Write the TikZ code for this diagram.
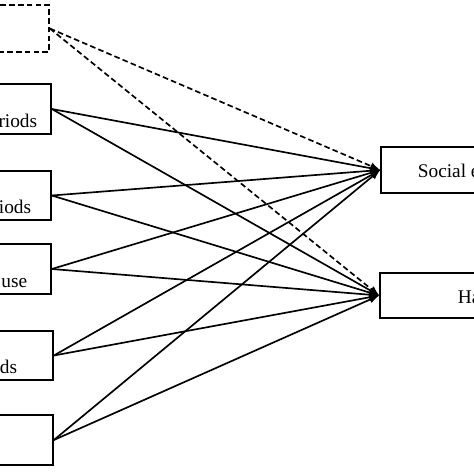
\documentclass[tikz,border=0pt]{standalone}
\usepackage{fontspec}
\setmainfont{Liberation Serif}
\usetikzlibrary{arrows,positioning}

\begin{document}
\begin{tikzpicture}[x=0.2mm, y=-0.2mm, line width=0.95pt, >=latex,
  box/.style={draw, rectangle, line width=0.95pt, minimum width=40mm, minimum height=10mm},
  rbox/.style={draw, rectangle, line width=0.95pt, minimum width=30mm, minimum height=9.2mm},
  frag/.style={inner sep=0pt, font=\fontsize{11}{13}\selectfont}]
\useasboundingbox (0,0) rectangle (474,474);
\clip (0,0) rectangle (474,474);

% left column
\node (control)[box, dashed, dash pattern=on 3.2pt off 1.8pt, minimum height=9.4mm] at (-51,28.5) {};
\node (periodsA)[box] at (-49,109) {};
\node (periodsB)[box, minimum height=9.8mm] at (-49,195.5) {};
\node (use)[box] at (-49,269) {};
\node (periodsC)[box, minimum height=9.8mm] at (-47,355.5) {};
\node (bottom)[box] at (-47,440) {};

\node (tA)[frag, anchor=base east] at (38,127) {riods};
\node (tB)[frag, anchor=base east] at (32,213) {iods};
\node (tC)[frag, anchor=base east] at (28,287) {use};
\node (tD)[frag, anchor=base east] at (18,373) {ods};

% right column
\node (social)[rbox] at (456,170) {};
\node (health)[rbox, minimum height=9mm] at (455,295.5) {};
\node (tsocial)[frag, anchor=base west] at (417,177) {Social e};
\node (thealth)[frag, anchor=base west] at (457,303) {Ha};

\draw [->, dashed, dash pattern=on 3.2pt off 1.8pt](control.east)--(social.west);
\draw [->, dashed, dash pattern=on 3.2pt off 1.8pt](control.east)--(health.west);
\foreach \n in {periodsA,periodsB,use,periodsC,bottom}{
  \draw [->](\n.east)--(social.west);
  \draw [->](\n.east)--(health.west);
}
\end{tikzpicture}
\end{document}
